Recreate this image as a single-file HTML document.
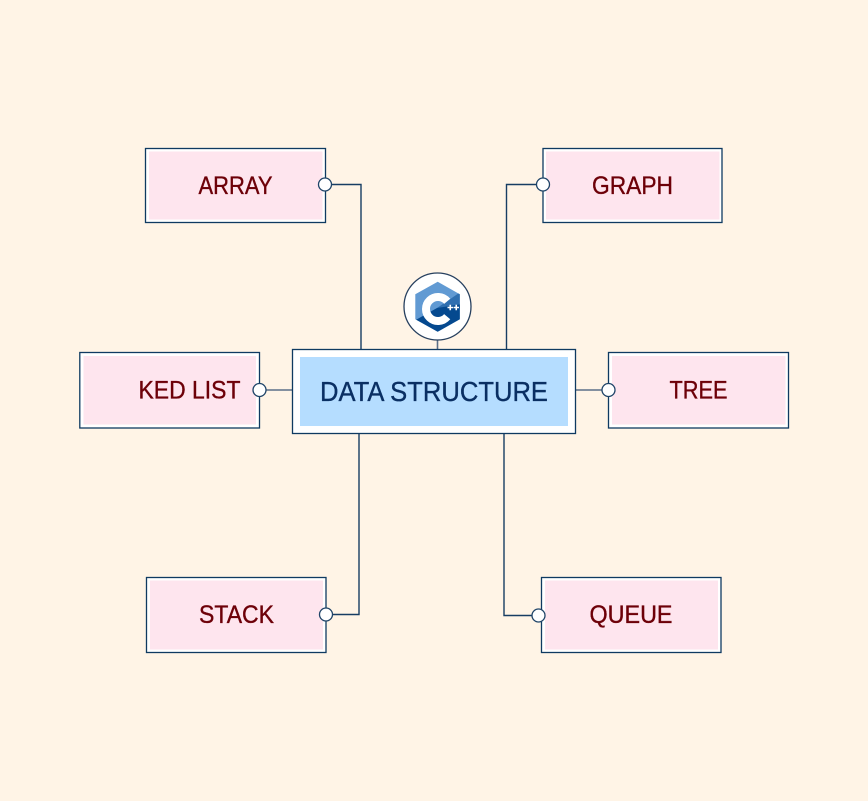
<!DOCTYPE html>
<html lang="en">
<head>
<meta charset="utf-8">
<title>Data Structure</title>
<style>
html,body{margin:0;padding:0;width:868px;height:801px;overflow:hidden;background:#fff4e6}
svg{display:block}
text{font-family:"Liberation Sans",sans-serif;text-anchor:middle}
</style>
</head>
<body>
<svg width="868" height="801" viewBox="0 0 868 801" xmlns="http://www.w3.org/2000/svg">
<rect width="868" height="801" fill="#fff4e6"/>
<g fill="none" stroke="#173d63" stroke-width="1.4">
<path d="M326 184.500H361V350"/>
<path d="M543 184.500H506.500V350"/>
<path d="M359 433V614.500H326"/>
<path d="M504 433V615.500H539"/>
<path d="M259 390H293" stroke="#5b6f88" stroke-width="1.600"/>
<path d="M575 390H608" stroke="#5b6f88" stroke-width="1.600"/>
<path d="M437.500 340V350" stroke="#5b6f88" stroke-width="1.600"/>
</g>
<g fill="#fff" stroke="#0f3a61" stroke-width="1.300">
<rect x="145.500" y="148.500" width="180" height="74"/>
<rect x="543" y="148.500" width="179" height="74"/>
<rect x="79.800" y="352.500" width="179.700" height="75.500"/>
<rect x="608.500" y="352.500" width="180" height="75.500"/>
<rect x="146.500" y="577.500" width="179.500" height="75"/>
<rect x="541.500" y="577.500" width="179.500" height="75"/>
<rect x="292.500" y="349.500" width="283" height="84"/>
</g>
<g fill="#fee5ee">
<rect x="149" y="151.500" width="173.500" height="68"/>
<rect x="546" y="151.500" width="173.500" height="68"/>
<rect x="83.500" y="356" width="172.500" height="68.500"/>
<rect x="612" y="356" width="173.500" height="68.500"/>
<rect x="150" y="580.500" width="173" height="69"/>
<rect x="545" y="580.500" width="173" height="69"/>
</g>
<rect x="300" y="357" width="268" height="69" fill="#b5ddff"/>
<g fill="#6d0008" stroke="#6d0008" stroke-width="0.350" font-size="25">
<text x="235.500" y="194" textLength="74" lengthAdjust="spacingAndGlyphs">ARRAY</text>
<text x="632.500" y="194" textLength="81" lengthAdjust="spacingAndGlyphs">GRAPH</text>
<text x="189.500" y="398.500" textLength="102" lengthAdjust="spacingAndGlyphs">KED LIST</text>
<text x="698.500" y="398.500" textLength="58" lengthAdjust="spacingAndGlyphs">TREE</text>
<text x="236.500" y="623" textLength="75" lengthAdjust="spacingAndGlyphs">STACK</text>
<text x="631" y="623" textLength="83" lengthAdjust="spacingAndGlyphs">QUEUE</text>
</g>
<text x="434" y="401" font-size="28" fill="#0a2f63" stroke="#0a2f63" stroke-width="0.350" textLength="228" lengthAdjust="spacingAndGlyphs">DATA STRUCTURE</text>
<g fill="#fff" stroke="#1f4468" stroke-width="1.300">
<circle cx="325" cy="184.500" r="6.500"/>
<circle cx="543" cy="184.500" r="6.500"/>
<circle cx="259.500" cy="390" r="6.500"/>
<circle cx="608.500" cy="390" r="6.500"/>
<circle cx="326" cy="614.500" r="6.500"/>
<circle cx="538.500" cy="615.500" r="6.500"/>
</g>
<circle cx="437.500" cy="306.500" r="33.500" fill="#fff" stroke="#27405f" stroke-width="1.300"/>
<clipPath id="hex"><path d="M437.700 281.700L459.800 294.200V319.200L437.700 331.700L415.300 319.200V294.200Z"/></clipPath>
<g clip-path="url(#hex)">
<rect x="414" y="280" width="48" height="53" fill="#619ad3"/>
<path d="M437 308L462 291V308Z" fill="#2f6fb0"/>
<path d="M412 322L437 308L462 304V334H412Z" fill="#05498f"/>
</g>
<path d="M447.200 301.300A12 12 0 1 0 447.200 316.700" fill="none" stroke="#fff" stroke-width="8"/>
<g fill="none" stroke="#fff" stroke-width="1.600">
<path d="M447.500 307.500H453M450.250 304.700V310.300"/>
<path d="M453.500 307.500H459M456.250 304.700V310.300"/>
</g>
</svg>
</body>
</html>
